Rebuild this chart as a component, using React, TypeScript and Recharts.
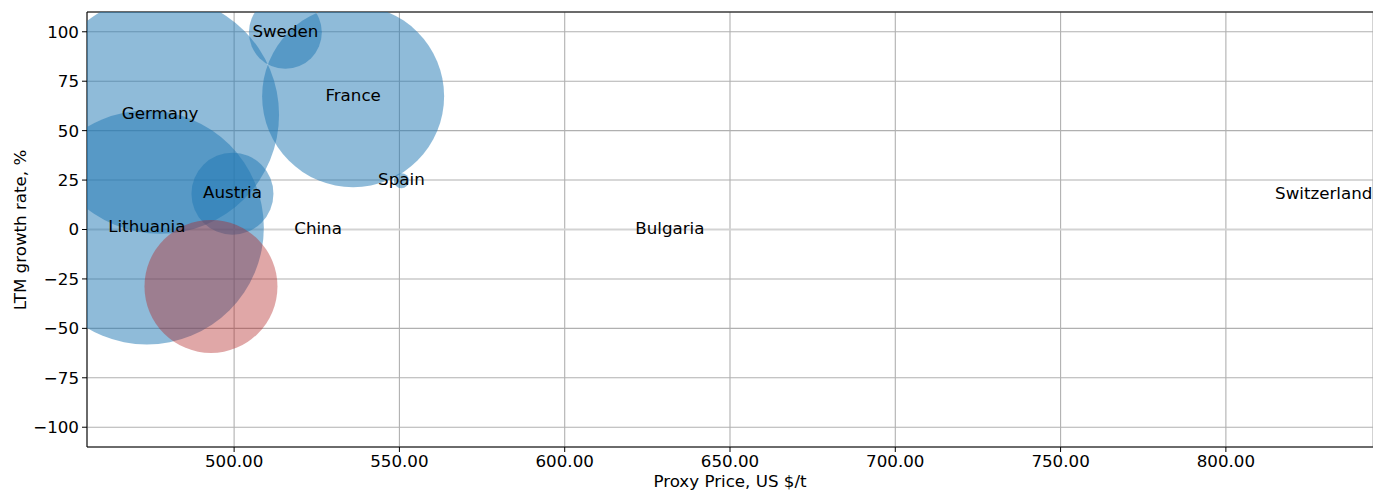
import {
  ScatterChart,
  Scatter,
  XAxis,
  YAxis,
  ZAxis,
  CartesianGrid,
  ReferenceLine,
} from "recharts";

// countries shown on the chart (blue bubbles + labels)
const countries = [
  "Germany",
  "Lithuania",
  "France",
  "Austria",
  "Sweden",
  "Spain",
  "China",
  "Bulgaria",
  "Switzerland",
];
const proxyPrice = [477.6, 473.6, 536.0, 499.5, 515.5, 550.6, 525.4, 631.8, 829.6];
const growthRate = [58.0, 1.0, 67.4, 18.1, 99.7, 24.7, 0.0, 0.0, 17.5];
const volume = [141.6, 136.9, 82.8, 16.8, 13.3, 0.56, 0, 0, 0];

// highlighted bubble (red, no label)
const highlightPrice = [493.0];
const highlightGrowth = [-28.8];
const highlightVolume = [44.2];

const xTicks = [500, 550, 600, 650, 700, 750, 800];
const yTicks = [-100, -75, -50, -25, 0, 25, 50, 75, 100];

const FONT = "'DejaVu Sans', sans-serif";
const FONT_SIZE = 16.7;

const countryData = countries.map((name, i) => ({
  name,
  x: proxyPrice[i],
  y: growthRate[i],
  z: volume[i],
}));

const highlightData = highlightPrice.map((x, i) => ({
  name: "",
  x,
  y: highlightGrowth[i],
  z: highlightVolume[i],
}));

const Bubble = (color: string, opacity: number) => (props: any) => {
  const { cx, cy, width } = props;
  if (!width) return <g />;
  return <circle cx={cx} cy={cy} r={width / 2} fill={color} fillOpacity={opacity} />;
};

const CountryLabel = (props: any) => {
  const { cx, cy, payload } = props;
  return (
    <text
      x={cx}
      y={cy - 1.5}
      textAnchor="middle"
      dominantBaseline="central"
      fontFamily={FONT}
      fontSize={FONT_SIZE}
      fill="#000"
    >
      {payload.name}
    </text>
  );
};

const fmtY = (v: number) => (v < 0 ? "\u2212" + Math.abs(v) : String(v));

export default function App() {
  return (
    <div style={{ position: "absolute", left: 0, top: 0 }}>
      <ScatterChart width={1373} height={490} margin={{ top: 12, right: 0, bottom: 0, left: 0 }}>
        <CartesianGrid stroke="#b0b0b0" strokeWidth={1.1} />
        <XAxis
          type="number"
          dataKey="x"
          domain={[455.5, 844.5]}
          ticks={xTicks}
          allowDataOverflow
          height={43}
          tickFormatter={(v: number) => v.toFixed(2)}
          tick={{ fill: "#000", fontFamily: FONT, fontSize: FONT_SIZE }}
          tickSize={5}
          tickMargin={3}
          stroke="#000"
          label={() => (
            <text x={730} y={487} textAnchor="middle" fontFamily={FONT} fontSize={FONT_SIZE} fill="#000">
              Proxy Price, US $/t
            </text>
          )}
        />
        <YAxis
          type="number"
          dataKey="y"
          domain={[-110, 110]}
          ticks={yTicks}
          allowDataOverflow
          width={87}
          tickFormatter={fmtY}
          tick={{ fill: "#000", fontFamily: FONT, fontSize: FONT_SIZE }}
          tickSize={5}
          tickMargin={3}
          stroke="#000"
          label={() => (
            <text
              x={26}
              y={230}
              transform="rotate(-90, 26, 230)"
              textAnchor="middle"
              fontFamily={FONT}
              fontSize={FONT_SIZE}
              fill="#000"
            >
              LTM growth rate, %
            </text>
          )}
        />
        <ZAxis type="number" dataKey="z" domain={[0, 150]} range={[0, 150 * 100 * Math.PI]} />
        <ReferenceLine y={0} stroke="#d3d3d3" strokeWidth={2.2} />
        <ReferenceLine y={110} stroke="#000" strokeWidth={1.1} />
        <Scatter data={countryData} shape={Bubble("#1f77b4", 0.5)} isAnimationActive={false} />
        <Scatter data={highlightData} shape={Bubble("#b22222", 0.4)} isAnimationActive={false} />
        <Scatter data={countryData} shape={CountryLabel} isAnimationActive={false} />
      </ScatterChart>
    </div>
  );
}
